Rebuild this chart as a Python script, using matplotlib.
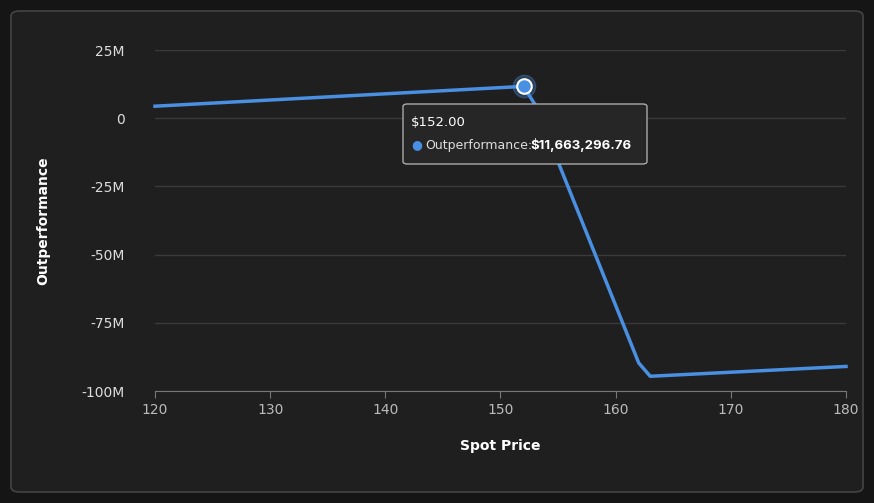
import matplotlib.pyplot as plt
from matplotlib.patches import FancyBboxPatch

spot = [120, 152, 153, 162, 163, 180]
outperf = [4.4e6, 11663296.76, 5.0e6, -89.7e6, -94.6e6, -91.0e6]
yticks = [25e6, 0, -25e6, -50e6, -75e6, -100e6]
ylabels = ['25M', '0', '-25M', '-50M', '-75M', '-100M']
xticks = [120, 130, 140, 150, 160, 170, 180]

W, H = 874, 503
fig = plt.figure(figsize=(W / 100, H / 100), dpi=100)
fig.patch.set_facecolor('#151515')
fig.patches.append(FancyBboxPatch((11 / W, 11 / H), 852 / W, 481 / H,
                                  boxstyle='round,pad=0,rounding_size=0.01',
                                  transform=fig.transFigure, facecolor='#1f1f1f',
                                  edgecolor='#444444', linewidth=1.2, zorder=-5))

ax = fig.add_axes([155 / W, 1 - 391 / H, 691 / W, 341 / H])
ax.set_facecolor('none')
ax.set_xlim(120, 180)
ax.set_ylim(-100e6, 25e6)
ax.set_yticks(yticks)
ax.set_yticklabels(ylabels)
ax.set_xticks(xticks)
for s in ['top', 'right', 'left']:
    ax.spines[s].set_visible(False)
ax.spines['bottom'].set_color('#777777')
ax.grid(axis='y', color='#3a3a3a', linewidth=1)
ax.tick_params(axis='y', length=0, colors='#dddddd', labelsize=10, pad=22)
ax.tick_params(axis='x', length=5, color='#777777', colors='#bbbbbb', labelsize=10)
ax.set_xlabel('Spot Price', color='white', fontsize=10, fontweight='bold', labelpad=16)
ax.set_ylabel('Outperformance', color='white', fontsize=10, fontweight='bold', labelpad=22)
ax.set_axisbelow(True)

ax.plot(spot, outperf, color='#4a90e2', linewidth=2.5, clip_on=False, zorder=3)
ax.scatter([spot[1]], [outperf[1]], s=260, color='#4a90e2', alpha=0.3, zorder=4, clip_on=False)
ax.scatter([spot[1]], [outperf[1]], s=110, color='#4a90e2', edgecolor='white', linewidth=1.5, zorder=5, clip_on=False)

# tooltip
fig.patches.append(FancyBboxPatch((403 / W, 1 - 164 / H), 244 / W, 60 / H,
                                  boxstyle='round,pad=0,rounding_size=0.005',
                                  transform=fig.transFigure, facecolor='#262626',
                                  edgecolor='#aaaaaa', linewidth=1, zorder=10))
fig.text(411 / W, 1 - 122 / H, '$152.00', color='white', fontsize=9.5, va='center', zorder=11)
fig.text(411 / W, 1 - 145 / H, '\u25CF', color='#4a90e2', fontsize=9, va='center', zorder=11)
fig.text(425 / W, 1 - 145 / H, 'Outperformance:', color='#dddddd', fontsize=9, va='center', zorder=11)
fig.text(530 / W, 1 - 145 / H, '$11,663,296.76', color='white', fontsize=9.5,
         fontweight='bold', va='center', zorder=11, family='Inter')

fig.savefig('out.png', dpi=100, facecolor=fig.get_facecolor())
